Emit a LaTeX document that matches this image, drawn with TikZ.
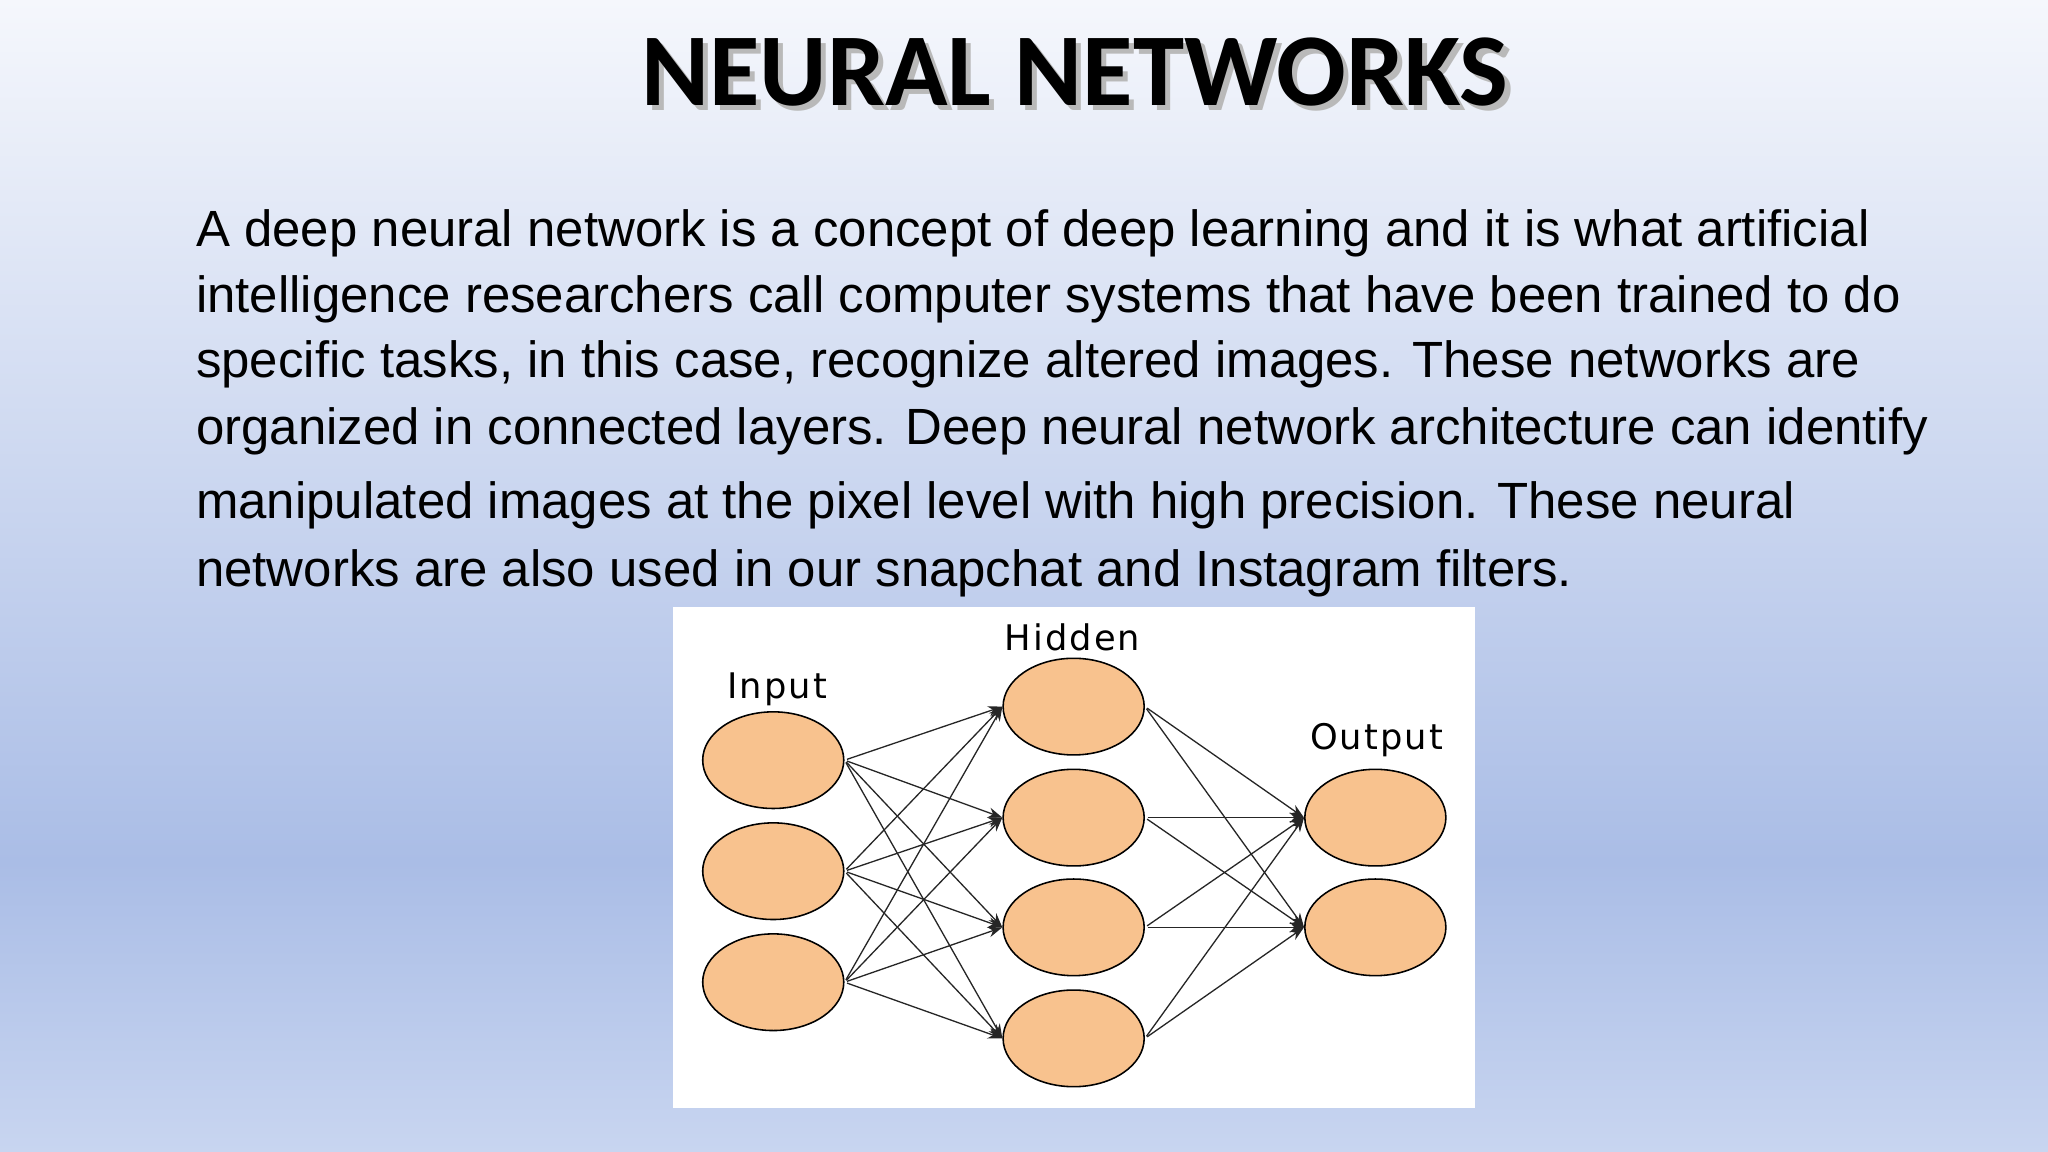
\documentclass[tikz,border=0pt]{standalone}
\usepackage{fontspec}
\setmainfont{Liberation Sans}
\newfontfamily\titlefont{Carlito}
\newfontfamily\labfont[LetterSpace=6]{DejaVu Sans}
\usetikzlibrary{shapes.geometric,arrows.meta,shadings}
\definecolor{bgtop}{HTML}{F5F7FC}
\definecolor{bgmid}{HTML}{AABDE6}
\definecolor{bgbot}{HTML}{C8D5F0}
\definecolor{neur}{HTML}{F8C28E}
\tikzset{
 neuron/.style={ellipse,draw=black,line width=1.2pt,fill=neur,minimum width=108pt,minimum height=74pt,inner sep=0pt},
 conn/.style={-{Stealth[length=11pt,width=8pt]},line width=1pt,black!85,shorten <=2pt},
 body/.style={anchor=base west,inner sep=0pt,font=\fontsize{39}{44}\selectfont},
 lab/.style={font=\labfont\fontsize{27}{30}\selectfont,inner sep=0pt}
}
\begin{document}
\begin{tikzpicture}[x=1pt,y=-1pt]
\useasboundingbox (0,0) rectangle (1568,882);
\shade[top color=bgtop,bottom color=bgmid] (0,0) rectangle (1568,660);
\shade[top color=bgmid,bottom color=bgbot] (0,660) rectangle (1568,882);
\node[font=\titlefont\bfseries\fontsize{79}{86}\selectfont,text=gray!55] (tsh) at (827,59) {NEURAL NETWORKS};
\node[font=\titlefont\bfseries\fontsize{79}{86}\selectfont] (title) at (823,55) {NEURAL NETWORKS};
\node[body] (l1) at (150,189) {A deep neural network is a concept of deep learning and it is what artificial};
\node[body] (l2) at (150,239) {intelligence researchers call computer systems that have been trained to do};
\node[body] (l3) at (150,289) {specific tasks, in this case, recognize altered images. These networks are};
\node[body] (l4) at (150,340) {organized in connected layers. Deep neural network architecture can identify};
\node[body] (l5) at (150,397) {manipulated images at the pixel level with high precision. These neural};
\node[body] (l6) at (150,449) {networks are also used in our snapchat and Instagram filters.};
\fill[white] (515,465) rectangle (1129,848);
\node[lab] (li) at (595,528) {Input};
\node[lab] (lh) at (821,488) {Hidden};
\node[lab] (lo) at (1054,567) {Output};
\foreach \i/\y in {1/582,2/667,3/752} \node[neuron] (i\i) at (592,\y) {};
\foreach \i/\y in {1/541,2/626,3/710,4/795} \node[neuron] (h\i) at (822,\y) {};
\foreach \i/\y in {1/626,2/710} \node[neuron] (o\i) at (1053,\y) {};
\foreach \a in {1,2,3} \foreach \b in {1,2,3,4} \draw[conn] (i\a.east) -- (h\b.west);
\foreach \a in {1,2,3,4} \foreach \b in {1,2} \draw[conn] (h\a.east) -- (o\b.west);
\end{tikzpicture}
\end{document}
